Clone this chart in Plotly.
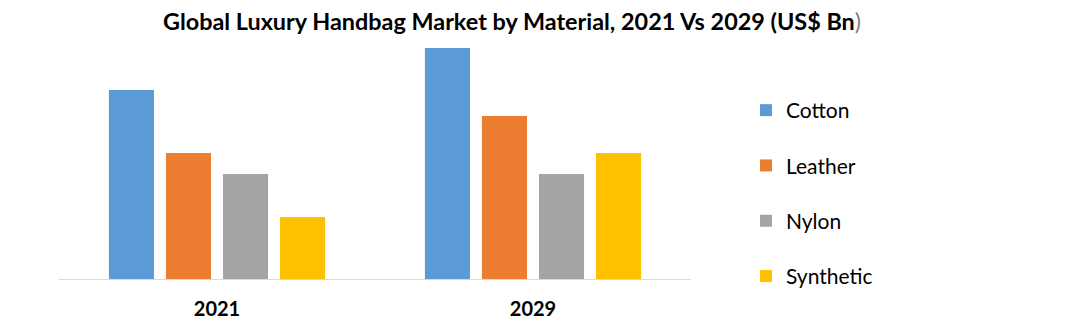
import plotly.graph_objects as go

categories = ["2021", "2029"]
materials = ["Cotton", "Leather", "Nylon", "Synthetic"]
cotton = [9.0, 11.0]
leather = [6.0, 7.76]
nylon = [5.0, 5.0]
synthetic = [2.95, 6.0]
colors = ["#5B9BD5", "#ED7D31", "#A5A5A5", "#FFC000"]

series = [cotton, leather, nylon, synthetic]

fig = go.Figure()
for name, vals, col in zip(materials, series, colors):
    fig.add_trace(go.Bar(
        x=categories, y=vals, name=name, legendgroup=name,
        marker=dict(color=col, line=dict(width=0)),
        hoverinfo="skip",
    ))

fig.update_layout(
    width=1071, height=322,
    margin=dict(l=59, r=380, t=27, b=43, autoexpand=False),
    paper_bgcolor="white", plot_bgcolor="white",
    barmode="group", bargap=0.278, bargroupgap=0.21,
    title=dict(
        text="<b>Global Luxury Handbag Market by Material, 2021 Vs 2029 (US$ Bn</b><span style='color:#7f7f7f'>)</span>",
        x=512/1071, xanchor="center", xref="container",
        y=1-22/322, yanchor="middle", yref="container",
        font=dict(family="Lato", size=23.4, color="black"),
    ),
    xaxis=dict(
        showline=True, linecolor="#D9D9D9", linewidth=1,
        showgrid=False, ticks="", automargin=False,
        tickfont=dict(family="Lato", size=20, color="black", weight="bold"),
        ticklabelstandoff=12,
    ),
    yaxis=dict(range=[0, 12], visible=False, showgrid=False, zeroline=False, automargin=False),
    legend=dict(
        xref="container", yref="container",
        x=746/1071, xanchor="left",
        y=1-90/322, yanchor="top",
        font=dict(family="Lato", size=21, color="black"),
        tracegroupgap=25, traceorder="grouped",
        itemsizing="constant",
        maxheight=320,
        bgcolor="rgba(0,0,0,0)",
    ),
)

fig.write_html("out.html")
